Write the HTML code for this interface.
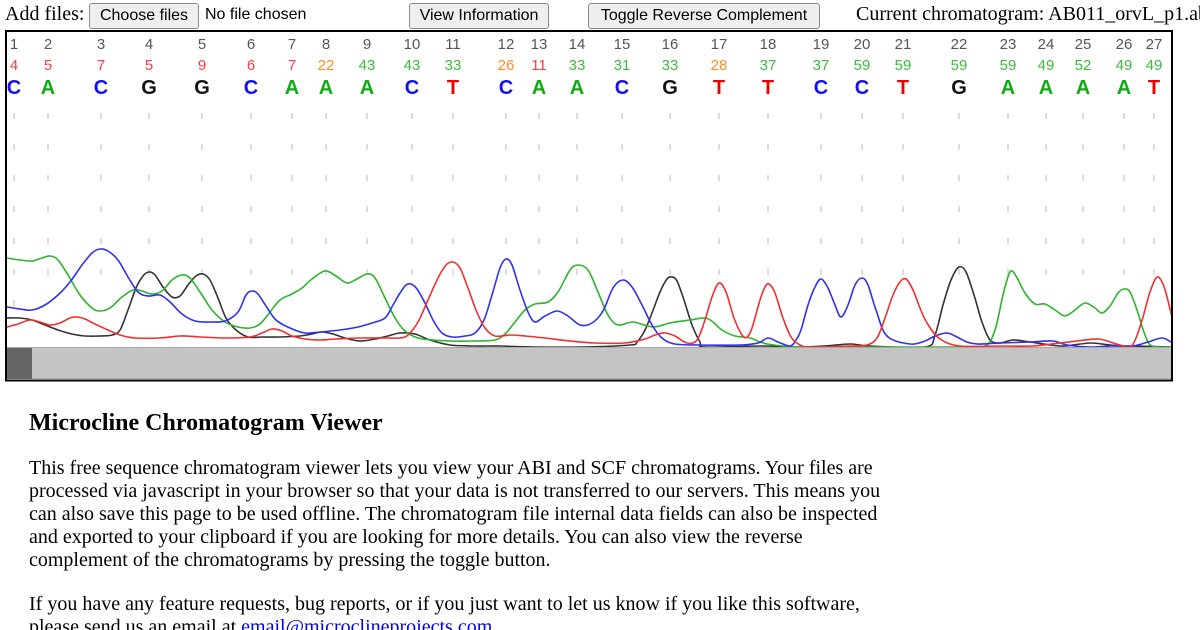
<!DOCTYPE html>
<html><head><meta charset="utf-8"><style>
html,body{margin:0;padding:0;background:#fff;width:1200px;height:630px;overflow:hidden;position:relative}
.ser{font-family:"Liberation Serif",serif;font-size:20px;line-height:23px;color:#000;position:absolute;white-space:nowrap}
.btn{position:absolute;top:3px;height:26px;box-sizing:border-box;border:1px solid #8a8a8a;border-radius:3px;background:#efefef;font-family:"Liberation Sans",sans-serif;font-size:16px;line-height:24px;text-align:center;color:#000;white-space:nowrap}
.sans{position:absolute;font-family:"Liberation Sans",sans-serif;font-size:16px;line-height:18px;white-space:nowrap;color:#000}
a{color:#0000ee;text-decoration:underline}
svg{position:absolute;left:0;top:0}
</style></head><body>
<div class="ser" style="left:5px;top:3px">Add files:</div>
<div class="btn" style="left:89px;width:110px">Choose files</div>
<div class="sans" style="left:205px;top:6px">No file chosen</div>
<div class="btn" style="left:409px;width:140px">View Information</div>
<div class="btn" style="left:588px;width:232px">Toggle Reverse Complement</div>
<div class="ser" style="left:856px;top:3px">Current chromatogram: AB011_orvL_p1.ab1</div>

<svg width="1200" height="390" viewBox="0 0 1200 390">
<defs><clipPath id="cp"><rect x="7" y="32" width="1164" height="316"/></clipPath></defs>
<g fill="#dddddd">
<g id="dashes"></g>
</g>
<g font-family="Liberation Sans, sans-serif" font-size="15" fill="#555" text-anchor="middle">
<text x="14" y="49">1</text><text x="48" y="49">2</text><text x="101" y="49">3</text><text x="149" y="49">4</text><text x="202" y="49">5</text><text x="251" y="49">6</text><text x="292" y="49">7</text><text x="326" y="49">8</text><text x="367" y="49">9</text><text x="412" y="49">10</text><text x="453" y="49">11</text><text x="506" y="49">12</text><text x="539" y="49">13</text><text x="577" y="49">14</text><text x="622" y="49">15</text><text x="670" y="49">16</text><text x="719" y="49">17</text><text x="768" y="49">18</text><text x="821" y="49">19</text><text x="862" y="49">20</text><text x="903" y="49">21</text><text x="959" y="49">22</text><text x="1008" y="49">23</text><text x="1046" y="49">24</text><text x="1083" y="49">25</text><text x="1124" y="49">26</text><text x="1154" y="49">27</text>
</g>
<g font-family="Liberation Sans, sans-serif" font-size="15" text-anchor="middle">
<text x="14" y="70" fill="#ff3b3b">4</text><text x="48" y="70" fill="#ff3b3b">5</text><text x="101" y="70" fill="#ff3b3b">7</text><text x="149" y="70" fill="#ff3b3b">5</text><text x="202" y="70" fill="#ff3b3b">9</text><text x="251" y="70" fill="#ff3b3b">6</text><text x="292" y="70" fill="#ff3b3b">7</text><text x="326" y="70" fill="#ff8c26">22</text><text x="367" y="70" fill="#3cbb3c">43</text><text x="412" y="70" fill="#3cbb3c">43</text><text x="453" y="70" fill="#3cbb3c">33</text><text x="506" y="70" fill="#ff8c26">26</text><text x="539" y="70" fill="#ff3b3b">11</text><text x="577" y="70" fill="#3cbb3c">33</text><text x="622" y="70" fill="#3cbb3c">31</text><text x="670" y="70" fill="#3cbb3c">33</text><text x="719" y="70" fill="#ff8c26">28</text><text x="768" y="70" fill="#3cbb3c">37</text><text x="821" y="70" fill="#3cbb3c">37</text><text x="862" y="70" fill="#3cbb3c">59</text><text x="903" y="70" fill="#3cbb3c">59</text><text x="959" y="70" fill="#3cbb3c">59</text><text x="1008" y="70" fill="#3cbb3c">59</text><text x="1046" y="70" fill="#3cbb3c">49</text><text x="1083" y="70" fill="#3cbb3c">52</text><text x="1124" y="70" fill="#3cbb3c">49</text><text x="1154" y="70" fill="#3cbb3c">49</text>
</g>
<g font-family="Liberation Sans, sans-serif" font-size="20" font-weight="bold" text-anchor="middle">
<text x="14" y="94" fill="#1010f0">C</text><text x="48" y="94" fill="#12aa12">A</text><text x="101" y="94" fill="#1010f0">C</text><text x="149" y="94" fill="#111">G</text><text x="202" y="94" fill="#111">G</text><text x="251" y="94" fill="#1010f0">C</text><text x="292" y="94" fill="#12aa12">A</text><text x="326" y="94" fill="#12aa12">A</text><text x="367" y="94" fill="#12aa12">A</text><text x="412" y="94" fill="#1010f0">C</text><text x="453" y="94" fill="#ee0000">T</text><text x="506" y="94" fill="#1010f0">C</text><text x="539" y="94" fill="#12aa12">A</text><text x="577" y="94" fill="#12aa12">A</text><text x="622" y="94" fill="#1010f0">C</text><text x="670" y="94" fill="#111">G</text><text x="719" y="94" fill="#ee0000">T</text><text x="768" y="94" fill="#ee0000">T</text><text x="821" y="94" fill="#1010f0">C</text><text x="862" y="94" fill="#1010f0">C</text><text x="903" y="94" fill="#ee0000">T</text><text x="959" y="94" fill="#111">G</text><text x="1008" y="94" fill="#12aa12">A</text><text x="1046" y="94" fill="#12aa12">A</text><text x="1083" y="94" fill="#12aa12">A</text><text x="1124" y="94" fill="#12aa12">A</text><text x="1154" y="94" fill="#ee0000">T</text>
</g>
<g clip-path="url(#cp)" fill="none" stroke-width="1.6" stroke-linejoin="round" stroke-linecap="round">
<polyline class="tr" stroke="#333333" points="7,318 20,318 32,320 45,325 58,330 72,334 85,336 100,336 112,335 120,330 128,310 136,288 143,276 149,272 155,275 163,287 172,297 180,296 188,285 196,276 203,274 210,280 218,298 226,318 236,330 248,337 262,337 280,337 300,336 312,334 322,332 333,334 345,338 360,341 375,339 388,336 400,333 415,334 430,340 450,345 475,346 500,346 533,347 583,347 630,345 637,342 645,330 652,313 660,292 667,279 672,277 677,281 684,300 692,325 700,342 705,347 760,346 800,347 825,346 850,344 870,346 925,347 935,335 943,305 951,280 959,267 966,272 974,295 982,322 990,340 1000,343 1013,340 1030,342 1050,345 1065,346 1090,343 1110,345 1130,346 1171,347"/>
<polyline class="tr" stroke="#2cb42c" points="7,258 20,260 32,261 42,258 50,256 58,260 68,275 80,295 92,308 100,311 110,308 122,297 133,290 142,291 152,294 162,291 172,280 182,275 190,278 200,292 212,310 225,322 238,327 250,328 260,324 270,312 280,300 292,294 302,288 312,279 325,271 336,276 347,283 357,279 367,274 375,278 385,298 395,318 405,331 418,338 433,340 450,341 475,341 495,340 505,334 515,322 525,310 535,304 548,302 558,292 570,270 578,265 588,270 598,292 608,315 618,325 633,322 653,327 670,323 690,320 705,318 713,322 722,330 735,336 750,338 767,344 800,347 850,347 900,347 960,347 985,346 995,330 1003,295 1010,272 1016,276 1025,293 1035,304 1045,304 1055,310 1065,316 1075,310 1085,303 1095,308 1102,313 1110,306 1118,293 1124,289 1130,292 1137,310 1145,335 1152,346 1171,347"/>
<polyline class="tr" stroke="#3030f0" points="7,307 20,309 32,310 45,305 58,295 70,282 82,265 92,253 100,249 108,251 118,260 128,277 138,292 148,296 160,295 170,302 182,314 195,321 210,322 225,321 238,312 246,295 252,291 258,294 266,306 276,320 290,328 305,333 320,332 340,330 358,327 372,323 385,318 393,305 400,293 406,285 411,284 417,289 425,303 433,320 442,333 452,337 465,336 475,333 484,320 492,295 500,268 506,259 512,265 520,290 528,312 535,322 545,316 557,311 568,316 580,325 592,323 603,311 613,288 623,280 632,287 642,305 652,325 662,338 675,344 700,345 740,345 758,343 768,338 778,342 790,346 796,340 801,330 808,305 815,287 821,279 828,288 835,305 841,317 848,305 855,285 862,278 868,285 876,310 887,336 910,344 925,341 935,336 947,333 957,337 967,342 977,344 1000,343 1030,342 1053,341 1067,345 1090,347 1110,346 1133,346 1148,342 1162,338 1171,342"/>
<polyline class="tr" stroke="#f03030" points="7,327 18,324 30,320 40,322 50,325 60,323 70,318 77,317 85,319 95,324 108,330 120,335 135,338 160,338 180,336 200,337 225,338 250,337 262,333 272,329 282,331 292,336 305,339 320,340 335,339 360,338 385,338 400,338 408,335 418,322 428,300 438,278 446,265 453,262 460,268 468,288 476,310 485,328 495,336 510,335 525,336 545,338 570,341 595,343 625,343 645,339 655,335 665,333 675,336 687,343 697,340 705,320 712,297 719,283 726,292 734,318 742,335 747,337 752,328 760,300 765,287 769,284 775,293 783,318 791,337 800,345 810,347 850,346 867,345 877,338 885,318 893,295 900,282 906,279 913,290 920,308 927,323 940,339 960,346 1000,346 1033,346 1060,343 1077,341 1098,339 1110,342 1120,345 1130,347 1136,338 1143,317 1150,292 1157,277 1163,284 1167,297 1172,317"/>
</g>
<rect x="7" y="348" width="1164" height="31" fill="#c4c4c4"/>
<line x1="7" y1="347.5" x2="1171" y2="347.5" stroke="#a8a8a8" stroke-width="1"/>
<line x1="7" y1="378.5" x2="1171" y2="378.5" stroke="#a8a8a8" stroke-width="1"/>
<rect x="7" y="348" width="25" height="31" fill="#666666"/>
<rect x="6" y="31" width="1166" height="349.5" fill="none" stroke="#000" stroke-width="2"/>
</svg>

<div style="position:absolute;left:29px;top:409px;font-family:'Liberation Serif',serif;font-weight:bold;font-size:24px;line-height:28px;white-space:nowrap">Microcline Chromatogram Viewer</div>
<div class="ser" style="left:29px;top:457px">This free sequence chromatogram viewer lets you view your ABI and SCF chromatograms. Your files are<br>processed via javascript in your browser so that your data is not transferred to our servers. This means you<br>can also save this page to be used offline. The chromatogram file internal data fields can also be inspected<br>and exported to your clipboard if you are looking for more details. You can also view the reverse<br>complement of the chromatograms by pressing the toggle button.</div>
<div class="ser" style="left:29px;top:593px">If you have any feature requests, bug reports, or if you just want to let us know if you like this software,<br>please send us an email at <a>email@microclineprojects.com</a>.</div>

<script>
(function(){
var xs=[14,48,101,149,202,251,292,326,367,412,453,506,539,577,622,670,719,768,821,862,903,959,1008,1046,1083,1124,1154];
var ys=[116,147,178,209,241,272];
var g=document.getElementById('dashes');var ns='http://www.w3.org/2000/svg';var s='';
xs.forEach(function(x){ys.forEach(function(y){s+='<rect x="'+(x-1)+'" y="'+(y-3)+'" width="2" height="6"/>';});});
s+='<rect x="13" y="300" width="2" height="6"/>';
g.innerHTML=s;
var pl=document.querySelectorAll('polyline.tr');
for(var k=0;k<pl.length;k++){
var p=pl[k];var pts=p.getAttribute('points').trim().split(/\s+/).map(function(t){var a=t.split(',');return [+a[0],+a[1]];});
var d='M'+pts[0][0]+','+pts[0][1];
for(var i=0;i<pts.length-1;i++){
var p0=pts[i-1]||pts[i],p1=pts[i],p2=pts[i+1],p3=pts[i+2]||p2;
var c1x=p1[0]+(p2[0]-p0[0])/6,c1y=p1[1]+(p2[1]-p0[1])/6,c2x=p2[0]-(p3[0]-p1[0])/6,c2y=p2[1]-(p3[1]-p1[1])/6;
d+=' C'+c1x.toFixed(1)+','+c1y.toFixed(1)+' '+c2x.toFixed(1)+','+c2y.toFixed(1)+' '+p2[0]+','+p2[1];}
var path=document.createElementNS(ns,'path');path.setAttribute('d',d);path.setAttribute('stroke',p.getAttribute('stroke'));
p.parentNode.replaceChild(path,p);}
})();
</script>
</body></html>
